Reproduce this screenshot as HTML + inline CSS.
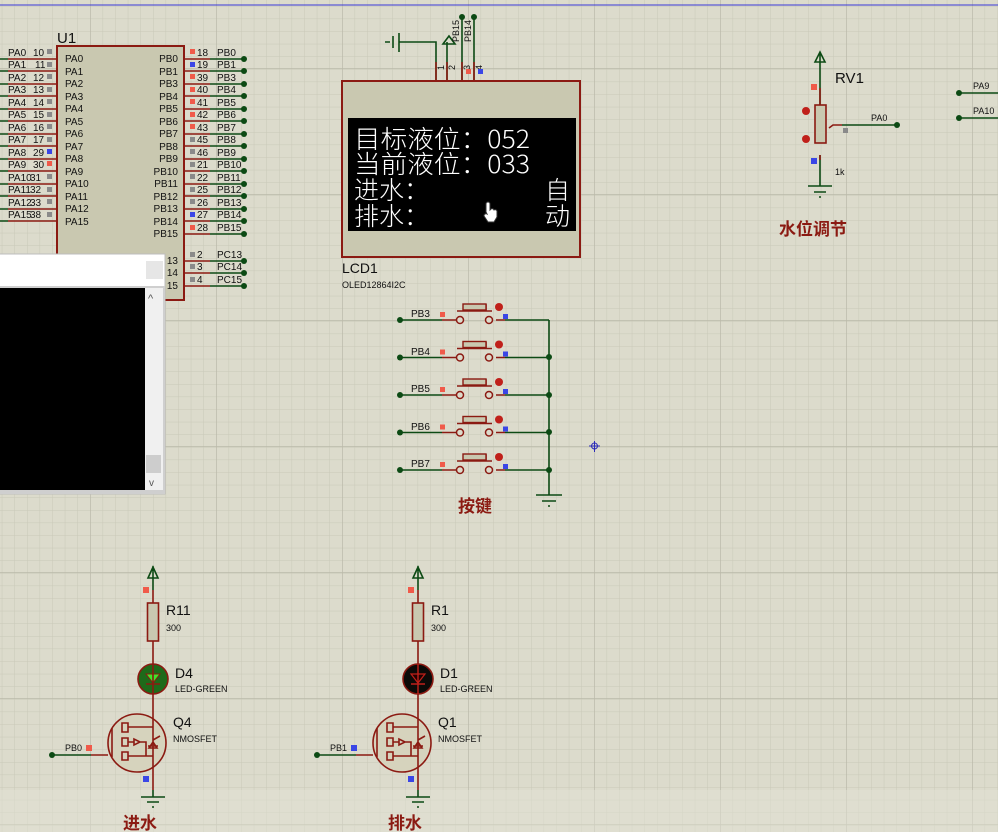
<!DOCTYPE html>
<html><head><meta charset="utf-8"><style>
html,body{margin:0;padding:0;background:#dcdbcc;}
svg{display:block;font-family:"Liberation Sans","Noto Sans CJK SC",sans-serif;}
.t{font-size:10px;fill:#111;}
.w{stroke:#0c4a14;stroke-width:1.6;fill:none;}
.r{stroke:#8b1a12;stroke-width:1.6;fill:none;}
</style></head><body>
<svg width="998" height="832" viewBox="0 0 998 832" xmlns="http://www.w3.org/2000/svg">
<defs>
<pattern id="g" x="1.8" y="6" width="12.6" height="12.6" patternUnits="userSpaceOnUse">
<path d="M0 0H12.6M0 0V12.6" stroke="#c9c8b8" stroke-width="1" fill="none"/></pattern>
<pattern id="G" x="90" y="68" width="126" height="126" patternUnits="userSpaceOnUse">
<path d="M0 0H126M0 0V126" stroke="#bab9a9" stroke-width="1.4" fill="none"/></pattern>
</defs>
<rect width="998" height="832" fill="#dcdbcc"/>
<rect width="998" height="832" fill="url(#g)"/>
<rect width="998" height="832" fill="url(#G)"/>
<rect x="0" y="790" width="998" height="42" fill="#e2e1d4" opacity="0.5"/>
<line x1="0" y1="5" x2="998" y2="5" stroke="#3a3ad8" stroke-width="1"/>

<!-- U1 -->
<text x="57" y="43" font-size="15" fill="#111">U1</text>
<rect x="57" y="46" width="127" height="254" fill="#c9c8b0" stroke="#8b1a12" stroke-width="2"/>
<g>
<path class="w" d="M0 59H8M0 71H8M0 84H8M0 96H8M0 109H8M0 121H8M0 134H8M0 146H8M0 159H8M0 171H8M0 184H8M0 196H8M0 209H8M0 221H8"/>
<path class="r" d="M8 59H57M8 71H57M8 84H57M8 96H57M8 109H57M8 121H57M8 134H57M8 146H57M8 159H57M8 171H57M8 184H57M8 196H57M8 209H57M8 221H57"/>
<g class="t">
<text x="8" y="56">PA0</text><text x="33" y="56">10</text>
<text x="8" y="68">PA1</text><text x="35" y="68">11</text>
<text x="8" y="81">PA2</text><text x="33" y="81">12</text>
<text x="8" y="93">PA3</text><text x="33" y="93">13</text>
<text x="8" y="106">PA4</text><text x="33" y="106">14</text>
<text x="8" y="118">PA5</text><text x="33" y="118">15</text>
<text x="8" y="131">PA6</text><text x="33" y="131">16</text>
<text x="8" y="143">PA7</text><text x="33" y="143">17</text>
<text x="8" y="156">PA8</text><text x="33" y="156">29</text>
<text x="8" y="168">PA9</text><text x="33" y="168">30</text>
<text x="8" y="181">PA10</text><text x="30" y="181">31</text>
<text x="8" y="193">PA11</text><text x="30" y="193">32</text>
<text x="8" y="206">PA12</text><text x="30" y="206">33</text>
<text x="8" y="218">PA15</text><text x="30" y="218">38</text>
<text x="65" y="62">PA0</text><text x="65" y="75">PA1</text><text x="65" y="87">PA2</text><text x="65" y="100">PA3</text>
<text x="65" y="112">PA4</text><text x="65" y="125">PA5</text><text x="65" y="137">PA6</text><text x="65" y="150">PA7</text>
<text x="65" y="162">PA8</text><text x="65" y="175">PA9</text><text x="65" y="187">PA10</text><text x="65" y="200">PA11</text>
<text x="65" y="212">PA12</text><text x="65" y="225">PA15</text>
</g>
<g fill="#8a8a8a"><rect x="47" y="49" width="5" height="5"/><rect x="47" y="62" width="5" height="5"/><rect x="47" y="74" width="5" height="5"/><rect x="47" y="87" width="5" height="5"/><rect x="47" y="99" width="5" height="5"/><rect x="47" y="112" width="5" height="5"/><rect x="47" y="124" width="5" height="5"/><rect x="47" y="137" width="5" height="5"/><rect x="47" y="174" width="5" height="5"/><rect x="47" y="187" width="5" height="5"/><rect x="47" y="199" width="5" height="5"/><rect x="47" y="212" width="5" height="5"/></g>
<rect x="47" y="149" width="5" height="5" fill="#3a46e6"/>
<rect x="47" y="161" width="5" height="5" fill="#f05a4a"/>
</g>

<!-- PB side -->
<path class="r" d="M184 59H210M184 71H210M184 84H210M184 96H210M184 109H210M184 121H210M184 134H210M184 146H210M184 159H210M184 171H210M184 184H210M184 196H210M184 209H210M184 221H210M184 234H210M184 261H210M184 273H210M184 286H210"/>
<path class="w" d="M210 59H244M210 71H244M210 84H244M210 96H244M210 109H244M210 121H244M210 134H244M210 146H244M210 159H244M210 171H244M210 184H244M210 196H244M210 209H244M210 221H244M210 234H244M210 261H244M210 273H244M210 286H244"/>
<g fill="#0c4a14"><circle cx="244" cy="59" r="3"/><circle cx="244" cy="71" r="3"/><circle cx="244" cy="84" r="3"/><circle cx="244" cy="96" r="3"/><circle cx="244" cy="109" r="3"/><circle cx="244" cy="121" r="3"/><circle cx="244" cy="134" r="3"/><circle cx="244" cy="146" r="3"/><circle cx="244" cy="159" r="3"/><circle cx="244" cy="171" r="3"/><circle cx="244" cy="184" r="3"/><circle cx="244" cy="196" r="3"/><circle cx="244" cy="209" r="3"/><circle cx="244" cy="221" r="3"/><circle cx="244" cy="234" r="3"/><circle cx="244" cy="261" r="3"/><circle cx="244" cy="273" r="3"/><circle cx="244" cy="286" r="3"/></g>
<g class="t">
<text x="197" y="56">18</text><text x="197" y="68">19</text><text x="197" y="81">39</text><text x="197" y="93">40</text><text x="197" y="106">41</text><text x="197" y="118">42</text><text x="197" y="131">43</text><text x="197" y="143">45</text><text x="197" y="156">46</text><text x="197" y="168">21</text><text x="197" y="181">22</text><text x="197" y="193">25</text><text x="197" y="206">26</text><text x="197" y="218">27</text><text x="197" y="231">28</text>
<text x="197" y="258">2</text><text x="197" y="270">3</text><text x="197" y="283">4</text>
<text x="217" y="56">PB0</text><text x="217" y="68">PB1</text><text x="217" y="81">PB3</text><text x="217" y="93">PB4</text><text x="217" y="106">PB5</text><text x="217" y="118">PB6</text><text x="217" y="131">PB7</text><text x="217" y="143">PB8</text><text x="217" y="156">PB9</text><text x="217" y="168">PB10</text><text x="217" y="181">PB11</text><text x="217" y="193">PB12</text><text x="217" y="206">PB13</text><text x="217" y="218">PB14</text><text x="217" y="231">PB15</text>
<text x="217" y="258">PC13</text><text x="217" y="270">PC14</text><text x="217" y="283">PC15</text>
<g text-anchor="end"><text x="178" y="62">PB0</text><text x="178" y="75">PB1</text><text x="178" y="87">PB3</text><text x="178" y="100">PB4</text><text x="178" y="112">PB5</text><text x="178" y="125">PB6</text><text x="178" y="137">PB7</text><text x="178" y="150">PB8</text><text x="178" y="162">PB9</text><text x="178" y="175">PB10</text><text x="178" y="187">PB11</text><text x="178" y="200">PB12</text><text x="178" y="212">PB13</text><text x="178" y="225">PB14</text><text x="178" y="237">PB15</text>
<text x="178" y="264">13</text><text x="178" y="276">14</text><text x="178" y="289">15</text></g>
</g>
<g fill="#f05a4a"><rect x="190" y="49" width="5" height="5"/><rect x="190" y="74" width="5" height="5"/><rect x="190" y="87" width="5" height="5"/><rect x="190" y="99" width="5" height="5"/><rect x="190" y="112" width="5" height="5"/><rect x="190" y="124" width="5" height="5"/><rect x="190" y="225" width="5" height="5"/></g>
<g fill="#3a46e6"><rect x="190" y="62" width="5" height="5"/><rect x="190" y="212" width="5" height="5"/></g>
<g fill="#8a8a8a"><rect x="190" y="137" width="5" height="5"/><rect x="190" y="149" width="5" height="5"/><rect x="190" y="162" width="5" height="5"/><rect x="190" y="174" width="5" height="5"/><rect x="190" y="187" width="5" height="5"/><rect x="190" y="199" width="5" height="5"/><rect x="190" y="252" width="5" height="5"/><rect x="190" y="264" width="5" height="5"/><rect x="190" y="277" width="5" height="5"/></g>

<!-- window overlay -->
<rect x="-2" y="254" width="167" height="240" fill="#ffffff" stroke="#bdbdbd"/>
<rect x="146" y="261" width="17" height="18" fill="#e6e6e6"/>
<rect x="0" y="286" width="165" height="208" fill="#cfcfcf"/>
<rect x="0" y="288" width="145" height="202" fill="#000"/>
<rect x="145" y="288" width="18" height="202" fill="#f0f0f0"/>
<rect x="146" y="455" width="15" height="18" fill="#cdcdcd"/>
<text x="148" y="302" font-size="11" fill="#555">^</text>
<text x="149" y="486" font-size="10" fill="#555">v</text>

<!-- LCD -->
<path class="w" d="M385 42H390M393 36V48M399 33V52M399 42H436V82M447 42V82M449 36L455 44H443Z"/>
<path class="w" d="M462 17V82M474 17V82"/>
<circle cx="462" cy="17" r="3" fill="#0c4a14"/><circle cx="474" cy="17" r="3" fill="#0c4a14"/>
<path class="r" d="M436 62V82M447 62V82M462 62V82M474 62V82"/>
<g font-size="9" fill="#111">
<text transform="translate(459,42) rotate(-90)">PB15</text>
<text transform="translate(471,42) rotate(-90)">PB14</text>
<text transform="translate(444,70) rotate(-90)">1</text>
<text transform="translate(455,70) rotate(-90)">2</text>
<text transform="translate(470,70) rotate(-90)">3</text>
<text transform="translate(482,70) rotate(-90)">4</text>
<text transform="translate(440,110) rotate(-90)">GND</text>
<text transform="translate(452,110) rotate(-90)">VCC</text>
<text transform="translate(466,110) rotate(-90)">SCL</text>
<text transform="translate(478,110) rotate(-90)">SDA</text>
</g>
<rect x="466" y="69" width="5" height="5" fill="#f05a4a"/><rect x="478" y="69" width="5" height="5" fill="#3a46e6"/>
<rect x="342" y="81" width="238" height="176" fill="#c9c8b0" stroke="#8b1a12" stroke-width="2"/>
<rect x="348" y="118" width="228" height="113" fill="#000"/>
<g fill="#fff" font-family="'Noto Sans CJK SC','WenQuanYi Zen Hei',sans-serif" font-size="25" font-weight="300">
<text x="354" y="148" textLength="176" lengthAdjust="spacingAndGlyphs">目标液位：052</text>
<text x="354" y="173" textLength="176" lengthAdjust="spacingAndGlyphs">当前液位：033</text>
<text x="354" y="199">进水：</text>
<text x="354" y="225">排水：</text>
<text x="545" y="199">自</text>
<text x="545" y="225">动</text>
</g>
<path d="M486 212v-8a2 2 0 0 1 4 0v6l1-1a2 2 0 0 1 3 1a2 2 0 0 1 3 1v6l-3 5h-6l-4-6a2 2 0 0 1 3-2z" fill="#fff" stroke="#333" stroke-width="1"/>
<text x="342" y="273" font-size="14" fill="#111">LCD1</text>
<text x="342" y="288" font-size="9" fill="#111">OLED12864I2C</text>

<!-- Buttons -->
<g id="btn">
<path class="w" d="M400 320H442M505 320H549"/>
<path class="r" d="M442 320H456M496 320H505M457 311H492M463 305H486V311"/>
<circle cx="460" cy="320" r="3.5" fill="#dcdbcc" stroke="#8b1a12" stroke-width="1.5"/>
<circle cx="489" cy="320" r="3.5" fill="#dcdbcc" stroke="#8b1a12" stroke-width="1.5"/>
<rect x="463" y="304" width="23" height="6" fill="#c9c8b0" stroke="#8b1a12" stroke-width="1.4"/>
<circle cx="499" cy="307" r="4" fill="#c0201a"/>
<circle cx="400" cy="320" r="3" fill="#0c4a14"/>
<rect x="440" y="312" width="5" height="5" fill="#f05a4a"/>
<rect x="503" y="314" width="5" height="5" fill="#3a46e6"/>
</g>
<use href="#btn" y="37.5"/><use href="#btn" y="75"/><use href="#btn" y="112.5"/><use href="#btn" y="150"/>
<g class="t"><text x="411" y="317">PB3</text><text x="411" y="355">PB4</text><text x="411" y="392">PB5</text><text x="411" y="430">PB6</text><text x="411" y="467">PB7</text></g>
<path class="w" d="M549 320V495M536 495H562M542 501H556M548 506H550"/>
<g fill="#0c4a14"><circle cx="549" cy="357" r="3"/><circle cx="549" cy="395" r="3"/><circle cx="549" cy="432" r="3"/><circle cx="549" cy="470" r="3"/></g>
<text x="458" y="512" font-size="17" fill="#8b1a12" font-weight="bold">按键</text>
<path d="M589 446h11M594.5 441v11" stroke="#2a2ab8" stroke-width="1"/><circle cx="594.5" cy="446" r="3" fill="none" stroke="#2a2ab8"/>

<!-- RV1 -->
<path class="w" d="M820 52V105M820 155V186M808 186H832M814 192H826M819 197H821M815 62L820 52L825 62Z"/>
<path class="r" d="M820 88V105M820 155V160"/>
<rect x="815" y="105" width="11" height="38" fill="#c9c8b0" stroke="#8b1a12" stroke-width="1.6"/>
<path class="r" d="M829 128L833 125H842"/>
<path class="w" d="M842 125H897"/><circle cx="897" cy="125" r="3" fill="#0c4a14"/>
<rect x="843" y="128" width="5" height="5" fill="#8a8a8a"/>
<rect x="811" y="84" width="6" height="6" fill="#f05a4a"/><rect x="811" y="158" width="6" height="6" fill="#3a46e6"/>
<circle cx="806" cy="111" r="4" fill="#c0201a"/><circle cx="806" cy="139" r="4" fill="#c0201a"/>
<text x="835" y="83" font-size="15" fill="#111">RV1</text>
<text x="835" y="175" font-size="9" fill="#111">1k</text>
<text x="871" y="121" font-size="9" fill="#111">PA0</text>
<text x="779" y="235" font-size="17" fill="#8b1a12" font-weight="bold">水位调节</text>
<path class="w" d="M959 93H998M959 118H998"/><circle cx="959" cy="93" r="3" fill="#0c4a14"/><circle cx="959" cy="118" r="3" fill="#0c4a14"/>
<text x="973" y="89" font-size="9" fill="#111">PA9</text><text x="973" y="114" font-size="9" fill="#111">PA10</text>

<!-- LED drivers -->
<g id="drv">
<path class="w" d="M153 566V590M148 578L153 567L158 578Z"/>
<path class="r" d="M153 590V604M153 640V665M153 692V716M153 773V790"/>
<rect x="147.5" y="603" width="11" height="38" fill="#c9c8b0" stroke="#8b1a12" stroke-width="1.6"/>
<circle cx="137" cy="743" r="29" fill="#d6d3bd" stroke="#8b1a12" stroke-width="1.6"/>
<path class="r" d="M91 755H108M112 728V757M122 723h6v9h-6zM122 738h6v8h-6zM122 752h6v8h-6zM128 727H153M128 756H153M128 742H134M140 742l-6-3v6zM140 742H146V756M153 716V773M148 746h10M153 742l-4 6h8zM153 740L160 736"/>
<path class="w" d="M153 790V797M141 797H165M147 802H159M152 807H154M52 755H91"/>
<circle cx="52" cy="755" r="3" fill="#0c4a14"/>
<rect x="143" y="587" width="6" height="6" fill="#f05a4a"/>
<rect x="143" y="776" width="6" height="6" fill="#3a46e6"/>
</g>
<circle cx="153" cy="679" r="15" fill="#1e6a1a" stroke="#8b1a12" stroke-width="1.6"/>
<path d="M146 674h14l-7 9z" fill="#3de82a" stroke="#8b1a12" stroke-width="1"/><path class="r" d="M146 684h14M153 664V694"/>
<rect x="86" y="745" width="6" height="6" fill="#f05a4a"/>
<text x="65" y="751" font-size="9" fill="#111">PB0</text>
<text x="166" y="615" font-size="14" fill="#111">R11</text><text x="166" y="631" font-size="9" fill="#111">300</text>
<text x="175" y="678" font-size="14" fill="#111">D4</text><text x="175" y="692" font-size="9" fill="#111">LED-GREEN</text>
<text x="173" y="727" font-size="14" fill="#111">Q4</text><text x="173" y="742" font-size="9" fill="#111">NMOSFET</text>
<text x="123" y="829" font-size="17" fill="#8b1a12" font-weight="bold">进水</text>

<use href="#drv" x="265"/>
<circle cx="418" cy="679" r="15" fill="#0c0a08" stroke="#8b1a12" stroke-width="1.6"/>
<path d="M411 674h14l-7 9z" fill="#200" stroke="#c0201a" stroke-width="1.2"/><path d="M411 684h14M418 664V694" stroke="#c0201a" stroke-width="1.4"/>
<rect x="351" y="745" width="6" height="6" fill="#3a46e6"/>
<text x="330" y="751" font-size="9" fill="#111">PB1</text>
<text x="431" y="615" font-size="14" fill="#111">R1</text><text x="431" y="631" font-size="9" fill="#111">300</text>
<text x="440" y="678" font-size="14" fill="#111">D1</text><text x="440" y="692" font-size="9" fill="#111">LED-GREEN</text>
<text x="438" y="727" font-size="14" fill="#111">Q1</text><text x="438" y="742" font-size="9" fill="#111">NMOSFET</text>
<text x="388" y="829" font-size="17" fill="#8b1a12" font-weight="bold">排水</text>
</svg>
</body></html>
